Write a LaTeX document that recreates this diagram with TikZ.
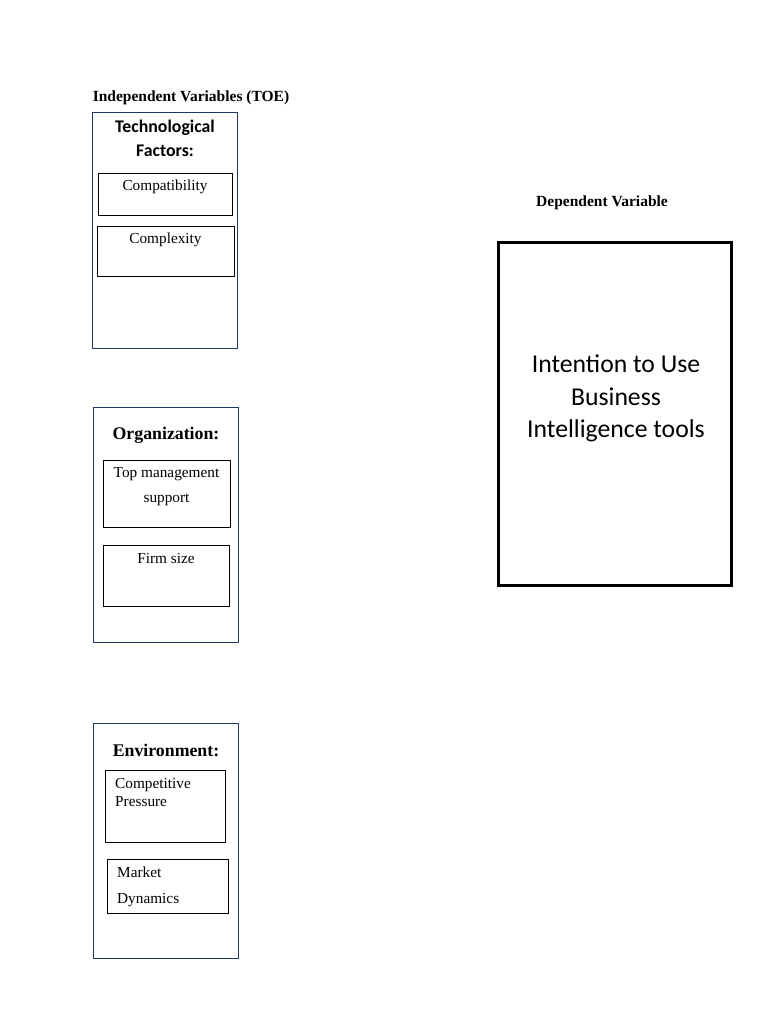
\documentclass[tikz,border=0pt]{standalone}
\usepackage{fontspec}
\setmainfont{Liberation Serif}
\newfontfamily\calib{Carlito}
\definecolor{navy}{RGB}{31,56,100}
\begin{document}
\begin{tikzpicture}[x=1pt,y=-1pt,
  outerbox/.style={draw=navy,line width=1pt,rectangle,inner sep=0pt},
  innerbox/.style={draw=black,line width=0.8pt,rectangle,inner sep=0pt},
  bigbox/.style={draw=black,line width=3pt,rectangle,inner sep=0pt},
  txt/.style={inner sep=0pt,yshift=-2pt},
  heading/.style={txt,font=\fontsize{15.5}{17}\selectfont\bfseries},
  sanshead/.style={inner sep=0pt,font=\calib\fontsize{17.8}{24}\selectfont\bfseries,align=center},
  serifhead/.style={txt,font=\fontsize{17.8}{20}\selectfont\bfseries},
  item/.style={txt,font=\fontsize{15.3}{18}\selectfont,align=center},
  itemL/.style={txt,font=\fontsize{15.3}{18}\selectfont,align=left},
  bigtext/.style={txt,font=\calib\fontsize{25.7}{32.5}\selectfont,align=center}]
\useasboundingbox[fill=white] (0,0) rectangle (768,1024);
% headings
\node[heading] (indep) at (191,96) {Independent Variables (TOE)};
\node[heading] (dep) at (602,201) {Dependent Variable};
% technological
\node[outerbox,minimum width=145pt,minimum height=235pt] (tech) at (164.5,230.5) {};
\node[sanshead] (techt) at (165,138.5) {Technological\\Factors:};
\node[innerbox,minimum width=134pt,minimum height=42pt] (compat) at (165,194) {};
\node[item] (compatt) at (165,185) {Compatibility};
\node[innerbox,minimum width=137pt,minimum height=50pt] (complex) at (165.5,251) {};
\node[item] (complext) at (165.5,238) {Complexity};
% organization
\node[outerbox,minimum width=145pt,minimum height=235pt] (org) at (165.5,524.5) {};
\node[serifhead] (orgt) at (166,433.5) {Organization:};
\node[innerbox,minimum width=127pt,minimum height=67pt] (topm) at (166.5,493.5) {};
\node[item,font=\fontsize{15.3}{25}\selectfont] (topmt) at (166.5,484.5) {Top management\\support};
\node[innerbox,minimum width=126pt,minimum height=61pt] (firm) at (166,575.5) {};
\node[item] (firmt) at (166,557) {Firm size};
% environment
\node[outerbox,minimum width=145pt,minimum height=235pt] (env) at (165.5,840.5) {};
\node[serifhead] (envt) at (166,748) {Environment:};
\node[innerbox,minimum width=120pt,minimum height=72pt] (comp) at (165,806) {};
\node[itemL,anchor=west] (compt) at (115,790) {Competitive\\Pressure};
\node[innerbox,minimum width=121pt,minimum height=54pt] (market) at (167.5,886) {};
\node[itemL,anchor=west,font=\fontsize{15.3}{26}\selectfont] (markett) at (117,885) {Market\\Dynamics};
% dependent
\node[bigbox,minimum width=233pt,minimum height=343pt] (big) at (614.5,413.5) {};
\node[bigtext,yshift=-0.5pt] (bigt) at (616,396) {Intention to Use\\Business\\Intelligence tools};
\end{tikzpicture}
\end{document}
